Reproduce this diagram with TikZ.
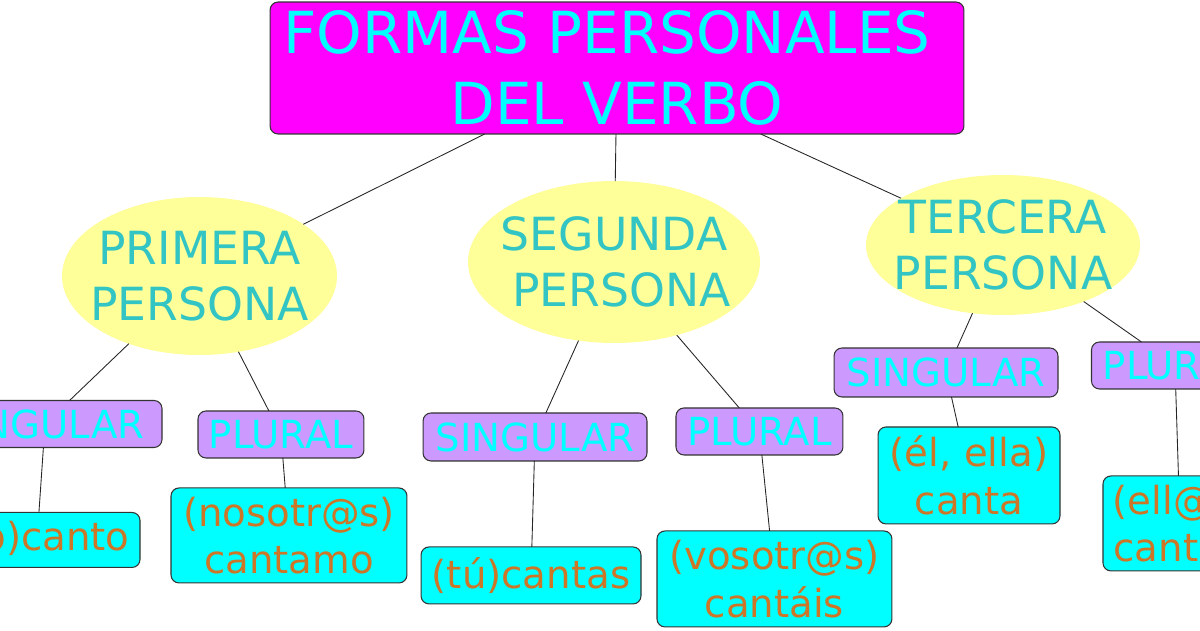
\documentclass[tikz,border=0pt]{standalone}
\usepackage{fontspec}
\setmainfont{DejaVu Sans}
\usetikzlibrary{positioning,shapes.geometric}
\definecolor{tituloFondo}{RGB}{255,0,255}
\definecolor{cian}{RGB}{0,255,255}
\definecolor{amarillo}{RGB}{255,255,153}
\definecolor{turquesa}{RGB}{51,196,196}
\definecolor{lila}{RGB}{204,153,255}
\definecolor{naranja}{RGB}{205,118,40}
\tikzset{
  titulo/.style = {draw=black!80, line width=0.6pt, fill=tituloFondo, rounded corners=0.16cm,
    text=cian, align=center, inner sep=0pt, outer sep=0pt,
    font=\fontsize{33}{40}\selectfont},
  persona/.style = {ellipse, fill=amarillo, text=turquesa, align=center,
    inner xsep=-1cm, inner ysep=-0.5cm, outer sep=0pt, font=\fontsize{26}{32}\selectfont},
  numero/.style = {draw=black!80, line width=0.6pt, fill=lila, rounded corners=0.16cm,
    text=cian, inner sep=0pt, outer sep=0pt, font=\fontsize{22}{27}\selectfont},
  forma/.style = {draw=black!80, line width=0.6pt, fill=cian, rounded corners=0.16cm,
    text=naranja, align=center, inner sep=0pt, outer sep=0pt,
    font=\fontsize{22}{27}\selectfont},
  rama/.style = {draw=black!85, line width=0.5pt}
}
\begin{document}
\begin{tikzpicture}[x=0.02cm, y=-0.02cm]
\useasboundingbox (0,0) rectangle (1200,630);
\clip (0,0) rectangle (1200,630);

\node [titulo, minimum width=13.88cm, minimum height=2.64cm] (verbo) at (617,68)
  {FORMAS PERSONALES\hspace*{0.4cm}\\DEL VERBO};

\node [persona, minimum width=5.50cm, minimum height=3.16cm] (primera) at (199.5,276) {PRIMERA\\PERSONA};
\node [persona, minimum width=5.84cm, minimum height=3.24cm] (segunda) at (614,262) {SEGUNDA\\\hspace*{0.3cm}PERSONA};
\node [persona, minimum width=5.48cm, minimum height=2.80cm] (tercera) at (1003,245) {TERCERA\\PERSONA};

\node [numero, minimum width=4.68cm, minimum height=0.94cm, below = 0.91cm of primera, xshift=-3.09cm] (sing1) {SINGULAR};
\node [numero, minimum width=3.32cm, minimum height=0.94cm, below = 1.12cm of primera, xshift=1.63cm] (plur1) {PLURAL};
\node [numero, minimum width=4.48cm, minimum height=0.96cm, below = 1.40cm of segunda, xshift=-1.58cm] (sing2) {SINGULAR};
\node [numero, minimum width=3.34cm, minimum height=0.94cm, below = 1.30cm of segunda, xshift=2.91cm] (plur2) {PLURAL};
\node [numero, minimum width=4.48cm, minimum height=0.98cm, below = 0.66cm of tercera, xshift=-1.14cm] (sing3) {SINGULAR};
\node [numero, minimum width=3.34cm, minimum height=0.94cm, below = 0.54cm of tercera, xshift=3.44cm] (plur3) {PLURAL};

\node [forma, minimum width=4.12cm, minimum height=1.10cm, below = 1.30cm of sing1, xshift=-0.16cm] (yo) {(yo)canto};
\node [forma, minimum width=4.72cm, minimum height=1.90cm, below = 0.60cm of plur1, xshift=0.16cm] (nosotros) {(nosotr@s)\\cantamo};
\node [forma, minimum width=4.40cm, minimum height=1.14cm, below = 1.72cm of sing2, xshift=-0.08cm] (tu) {(tú)cantas};
\node [forma, minimum width=4.70cm, minimum height=1.92cm, below = 1.52cm of plur2, xshift=0.30cm] (vosotros) {(vosotr@s)\\cantáis};
\node [forma, minimum width=3.64cm, minimum height=1.94cm, below = 0.60cm of sing3, xshift=0.46cm] (el) {(él, ella)\\canta};
\node [forma, minimum width=3.08cm, minimum height=1.90cm, below = 1.74cm of plur3, xshift=0.10cm] (ellos) {(ell@s)\\cantan};

\draw [rama] (verbo) -- (primera);
\draw [rama] (verbo) -- (segunda);
\draw [rama] (verbo) -- (tercera);
\draw [rama] (primera) -- (sing1);
\draw [rama] (primera) -- (plur1);
\draw [rama] (segunda) -- (sing2);
\draw [rama] (segunda) -- (plur2);
\draw [rama] (tercera) -- (sing3);
\draw [rama] (tercera) -- (plur3);
\draw [rama] (sing1) -- (yo);
\draw [rama] (plur1) -- (nosotros);
\draw [rama] (sing2) -- (tu);
\draw [rama] (plur2) -- (vosotros);
\draw [rama] (sing3) -- (el);
\draw [rama] (plur3) -- (ellos);
\end{tikzpicture}
\end{document}
